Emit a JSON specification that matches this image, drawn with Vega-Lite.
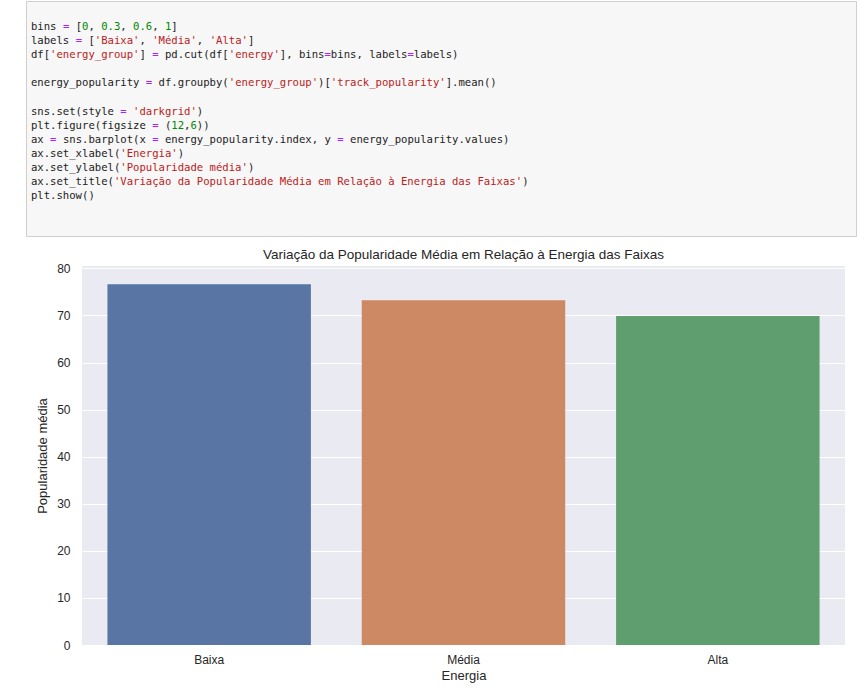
{
  "$schema": "https://vega.github.io/schema/vega-lite/v6.json",
  "background": "white",
  "padding": {"left": 25, "top": 0, "right": 9, "bottom": 4},
  "config": {
    "font": "Liberation Sans",
    "view": {"stroke": null},
    "axis": {"labelColor": "#262626", "titleColor": "#262626", "titleFontWeight": "normal"}
  },
  "resolve": {"scale": {"color": "independent", "x": "independent", "y": "independent"}},
  "spacing": 10,
  "vconcat": [
    {
      "width": 830,
      "height": 235,
      "view": {"fill": "#F7F7F7", "stroke": "#CFCFCF"},
      "data": {
        "values": [
          {"line": 1, "col": 0, "kind": "default", "text": "bins"},
          {"line": 1, "col": 5, "kind": "operator", "text": "="},
          {"line": 1, "col": 7, "kind": "default", "text": "["},
          {"line": 1, "col": 8, "kind": "number", "text": "0"},
          {"line": 1, "col": 9, "kind": "default", "text": ","},
          {"line": 1, "col": 11, "kind": "number", "text": "0.3"},
          {"line": 1, "col": 14, "kind": "default", "text": ","},
          {"line": 1, "col": 16, "kind": "number", "text": "0.6"},
          {"line": 1, "col": 19, "kind": "default", "text": ","},
          {"line": 1, "col": 21, "kind": "number", "text": "1"},
          {"line": 1, "col": 22, "kind": "default", "text": "]"},
          {"line": 2, "col": 0, "kind": "default", "text": "labels"},
          {"line": 2, "col": 7, "kind": "operator", "text": "="},
          {"line": 2, "col": 9, "kind": "default", "text": "["},
          {"line": 2, "col": 10, "kind": "string", "text": "'Baixa'"},
          {"line": 2, "col": 17, "kind": "default", "text": ","},
          {"line": 2, "col": 19, "kind": "string", "text": "'Média'"},
          {"line": 2, "col": 26, "kind": "default", "text": ","},
          {"line": 2, "col": 28, "kind": "string", "text": "'Alta'"},
          {"line": 2, "col": 34, "kind": "default", "text": "]"},
          {"line": 3, "col": 0, "kind": "default", "text": "df["},
          {"line": 3, "col": 3, "kind": "string", "text": "'energy_group'"},
          {"line": 3, "col": 17, "kind": "default", "text": "]"},
          {"line": 3, "col": 19, "kind": "operator", "text": "="},
          {"line": 3, "col": 21, "kind": "default", "text": "pd.cut(df["},
          {"line": 3, "col": 31, "kind": "string", "text": "'energy'"},
          {"line": 3, "col": 39, "kind": "default", "text": "], bins"},
          {"line": 3, "col": 46, "kind": "operator", "text": "="},
          {"line": 3, "col": 47, "kind": "default", "text": "bins, labels"},
          {"line": 3, "col": 59, "kind": "operator", "text": "="},
          {"line": 3, "col": 60, "kind": "default", "text": "labels)"},
          {"line": 5, "col": 0, "kind": "default", "text": "energy_popularity"},
          {"line": 5, "col": 18, "kind": "operator", "text": "="},
          {"line": 5, "col": 20, "kind": "default", "text": "df.groupby("},
          {"line": 5, "col": 31, "kind": "string", "text": "'energy_group'"},
          {"line": 5, "col": 45, "kind": "default", "text": ")["},
          {"line": 5, "col": 47, "kind": "string", "text": "'track_popularity'"},
          {"line": 5, "col": 65, "kind": "default", "text": "].mean()"},
          {"line": 7, "col": 0, "kind": "default", "text": "sns.set(style"},
          {"line": 7, "col": 14, "kind": "operator", "text": "="},
          {"line": 7, "col": 16, "kind": "string", "text": "'darkgrid'"},
          {"line": 7, "col": 26, "kind": "default", "text": ")"},
          {"line": 8, "col": 0, "kind": "default", "text": "plt.figure(figsize"},
          {"line": 8, "col": 19, "kind": "operator", "text": "="},
          {"line": 8, "col": 21, "kind": "default", "text": "("},
          {"line": 8, "col": 22, "kind": "number", "text": "12"},
          {"line": 8, "col": 24, "kind": "default", "text": ","},
          {"line": 8, "col": 25, "kind": "number", "text": "6"},
          {"line": 8, "col": 26, "kind": "default", "text": "))"},
          {"line": 9, "col": 0, "kind": "default", "text": "ax"},
          {"line": 9, "col": 3, "kind": "operator", "text": "="},
          {"line": 9, "col": 5, "kind": "default", "text": "sns.barplot(x"},
          {"line": 9, "col": 19, "kind": "operator", "text": "="},
          {"line": 9, "col": 21, "kind": "default", "text": "energy_popularity.index, y"},
          {"line": 9, "col": 48, "kind": "operator", "text": "="},
          {"line": 9, "col": 50, "kind": "default", "text": "energy_popularity.values)"},
          {"line": 10, "col": 0, "kind": "default", "text": "ax.set_xlabel("},
          {"line": 10, "col": 14, "kind": "string", "text": "'Energia'"},
          {"line": 10, "col": 23, "kind": "default", "text": ")"},
          {"line": 11, "col": 0, "kind": "default", "text": "ax.set_ylabel("},
          {"line": 11, "col": 14, "kind": "string", "text": "'Popularidade média'"},
          {"line": 11, "col": 34, "kind": "default", "text": ")"},
          {"line": 12, "col": 0, "kind": "default", "text": "ax.set_title("},
          {"line": 12, "col": 13, "kind": "string", "text": "'Variação da Popularidade Média em Relação à Energia das Faixas'"},
          {"line": 12, "col": 77, "kind": "default", "text": ")"},
          {"line": 13, "col": 0, "kind": "default", "text": "plt.show()"}
        ]
      },
      "mark": {"type": "text", "align": "left", "baseline": "middle", "font": "DejaVu Sans Mono", "fontSize": 10.6},
      "encoding": {
        "x": {"field": "col", "type": "quantitative", "scale": {"domain": [-0.78, 129.3], "nice": false, "zero": false}, "axis": null},
        "y": {"field": "line", "type": "quantitative", "scale": {"domain": [-0.844, 15.82], "nice": false, "zero": false, "reverse": true}, "axis": null},
        "text": {"field": "text"},
        "color": {
          "field": "kind",
          "type": "nominal",
          "scale": {"domain": ["default", "string", "number", "operator"], "range": ["#212121", "#BA2121", "#008800", "#AA22FF"]},
          "legend": null
        }
      }
    },
    {
      "spacing": 9,
      "resolve": {"scale": {"color": "independent", "x": "independent", "y": "independent"}},
      "hconcat": [
        {
          "width": 1,
          "height": 379,
          "data": {"values": []},
          "mark": "point",
          "encoding": {}
        },
        {
          "width": 763,
          "height": 379,
          "view": {"fill": "#EAEAF2", "stroke": null},
          "title": {
            "text": "Variação da Popularidade Média em Relação à Energia das Faixas",
            "fontSize": 13.5,
            "fontWeight": "normal",
            "color": "#262626",
            "offset": 1
          },
          "data": {
            "values": [
              {"energia": "Baixa", "popularidade": 76.6},
              {"energia": "Média", "popularidade": 73.2},
              {"energia": "Alta", "popularidade": 69.9}
            ]
          },
          "mark": {"type": "bar"},
          "encoding": {
            "x": {
              "field": "energia",
              "type": "nominal",
              "sort": ["Baixa", "Média", "Alta"],
              "scale": {"paddingInner": 0.2, "paddingOuter": 0.1},
              "axis": {
                "title": "Energia",
                "labelAngle": 0,
                "ticks": false,
                "domain": false,
                "labelFontSize": 12,
                "titleFontSize": 13,
                "labelPadding": 9,
                "titlePadding": 4
              }
            },
            "y": {
              "field": "popularidade",
              "type": "quantitative",
              "scale": {"domain": [0, 80.5], "nice": false},
              "axis": {
                "title": "Popularidade média",
                "values": [0, 10, 20, 30, 40, 50, 60, 70, 80],
                "grid": true,
                "gridColor": "#FFFFFF",
                "gridWidth": 1.2,
                "ticks": false,
                "domain": false,
                "labelFontSize": 12,
                "titleFontSize": 13,
                "labelPadding": 12,
                "titlePadding": 7
              }
            },
            "color": {
              "field": "energia",
              "type": "nominal",
              "sort": ["Baixa", "Média", "Alta"],
              "scale": {"domain": ["Baixa", "Média", "Alta"], "range": ["#5975A4", "#CC8963", "#5F9E6E"]},
              "legend": null
            }
          }
        }
      ]
    }
  ]
}
